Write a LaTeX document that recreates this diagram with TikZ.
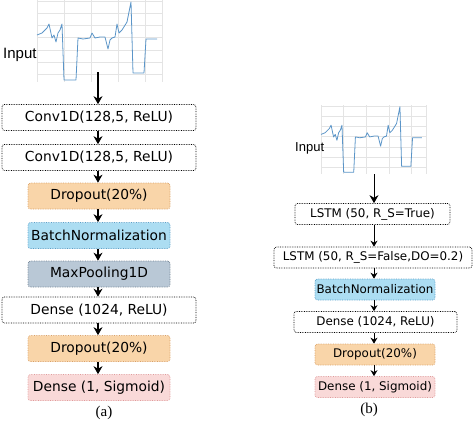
\documentclass[tikz,border=0pt]{standalone}
\usepackage{fontspec}
\setmainfont{DejaVu Sans}
\newfontfamily\inputfont{Liberation Sans}
\newfontfamily\capfont{Liberation Serif}
\usetikzlibrary{arrows.meta}
\definecolor{orfill}{HTML}{F9D5A9}
\definecolor{ordraw}{HTML}{D9A066}
\definecolor{blfill}{HTML}{ACDDF2}
\definecolor{bldraw}{HTML}{5A9FC8}
\definecolor{grfill}{HTML}{B9C8D6}
\definecolor{grdraw}{HTML}{6E7F90}
\definecolor{pkfill}{HTML}{F9D9D8}
\definecolor{pkdraw}{HTML}{E09A9A}
\definecolor{series}{HTML}{5B95C8}
\definecolor{gridc}{HTML}{E4E4E4}
\newcommand\mychart{%
  \foreach \gx in {37,64,91,118,145,162} \draw[gridc, line width=0.5pt] (\gx,0) -- (\gx,82);
  \foreach \gy in {1,13,25,37,50,62,74} \draw[gridc, line width=0.5pt] (37,\gy) -- (162,\gy);
  \draw[series, line width=0.8pt, line join=round] (37,35) -- (42,33) -- (47,28) -- (49,24) -- (52,38) -- (54,35) -- (56,42) -- (58,33) -- (60,30) -- (62,24) -- (64,80) -- (76,80) -- (78,38) -- (83,39) -- (90,38) -- (92,33) -- (95,38) -- (100,37) -- (105,37) -- (108,49) -- (110,40) -- (112,38) -- (115,37) -- (117,24) -- (119,33) -- (122,30) -- (127,22) -- (131,2) -- (133,73) -- (144,73) -- (146,39) -- (157,39);
}
\tikzset{
  lbox/.style={draw, densely dotted, rounded corners=2.5pt, inner sep=0pt, line width=0.7pt},
  la/.style={font=\fontsize{13.8}{15}\selectfont, minimum height=26pt},
  rb/.style={font=\fontsize{11.9}{13}\selectfont, minimum height=21pt},
  wide/.style={minimum width=194pt},
  narrow/.style={minimum width=142pt},
  orb/.style={fill=orfill, draw=ordraw},
  blb/.style={fill=blfill, draw=bldraw},
  grb/.style={fill=grfill, draw=grdraw},
  pkb/.style={fill=pkfill, draw=pkdraw},
  arr/.style={-{Stealth[width=9pt,length=8pt]}, line width=1.1pt},
  rarr/.style={-{Stealth[width=7pt,length=6pt]}, line width=0.8pt},
}
\begin{document}
\begin{tikzpicture}[x=1pt,y=-1pt]
\useasboundingbox (0,0) rectangle (474,424);
% left chart
\mychart
\node[font=\inputfont\fontsize{15}{17}\selectfont, anchor=west, inner sep=0] (inl) at (3,55) {Input};
\coordinate (chl) at (98,72);
% left column
\node[lbox,la,wide] (c1) at (99,117.5) {Conv1D(128,5, ReLU)};
\node[lbox,la,wide] (c2) at (99,157.5) {Conv1D(128,5, ReLU)};
\node[lbox,la,narrow,orb] (d1) at (99,196) {Dropout(20\%)};
\node[lbox,la,narrow,blb] (bn) at (99,235.5) {BatchNormalization};
\node[lbox,la,narrow,grb] (mp) at (99,274) {MaxPooling1D};
\node[lbox,la,wide] (de) at (99,310) {Dense (1024, ReLU)};
\node[lbox,la,narrow,orb] (d2) at (99,348.5) {Dropout(20\%)};
\node[lbox,la,narrow,pkb] (ds) at (99,387.5) {Dense (1, Sigmoid)};
\node[font=\capfont\fontsize{15}{17}\selectfont] (ca) at (104,413) {(a)};
\draw[arr] (chl) -- (c1.north -| chl);
\draw[arr] (c1.south -| chl) -- (c2.north -| chl);
\draw[arr] (c2.south -| chl) -- (d1.north -| chl);
\draw[arr] (d1.south -| chl) -- (bn.north -| chl);
\draw[arr] (bn.south -| chl) -- (mp.north -| chl);
\draw[arr] (mp.south -| chl) -- (de.north -| chl);
\draw[arr] (de.south -| chl) -- (d2.north -| chl);
\draw[arr] (d2.south -| chl) -- (ds.north -| chl);
% right chart
\begin{scope}[shift={(289.9,105)}, scale=0.84]
\mychart
\end{scope}
\node[font=\inputfont\fontsize{13}{15}\selectfont, anchor=west, inner sep=0] (inr) at (295,148) {Input};
\coordinate (chr) at (374,174);
\node[lbox,rb,minimum width=155pt] (l1) at (372.5,214) {LSTM (50, R\_S=True)};
\node[lbox,rb,minimum width=198pt] (l2) at (373,257.5) {LSTM (50, R\_S=False,DO=0.2)};
\node[lbox,rb,minimum width=120pt,blb] (rbn) at (375,289.5) {BatchNormalization};
\node[lbox,rb,minimum width=163pt] (rde) at (375.5,322) {Dense (1024, ReLU)};
\node[lbox,rb,minimum width=120pt,orb] (rdr) at (375,354.5) {Dropout(20\%)};
\node[lbox,rb,minimum width=120pt,pkb] (rds) at (375,387) {Dense (1, Sigmoid)};
\node[font=\capfont\fontsize{15}{17}\selectfont] (cb) at (369,410) {(b)};
\draw[arr, line width=1pt] (chr) -- (l1.north -| chr);
\draw[rarr] (l1.south -| chr) -- (l2.north -| chr);
\draw[rarr] (l2.south -| chr) -- (rbn.north -| chr);
\draw[rarr] (rbn.south -| chr) -- (rde.north -| chr);
\draw[rarr] (rde.south -| chr) -- (rdr.north -| chr);
\draw[rarr] (rdr.south -| chr) -- (rds.north -| chr);
\end{tikzpicture}
\end{document}
